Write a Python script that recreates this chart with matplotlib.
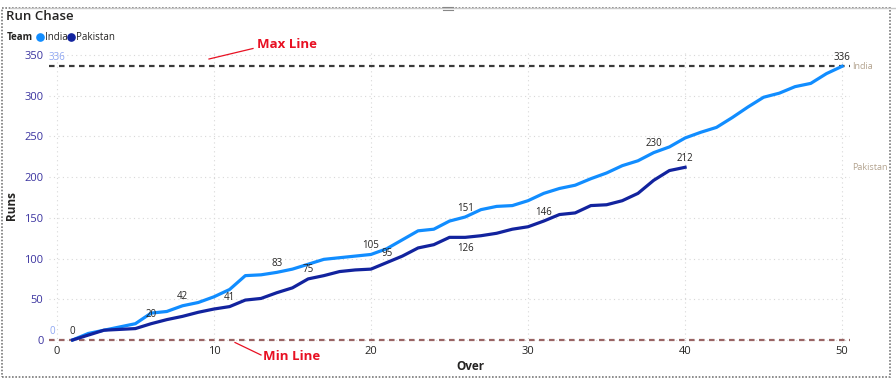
import numpy as np
import matplotlib.pyplot as plt
from matplotlib.patches import Rectangle
from matplotlib.lines import Line2D

# Дані: рани після кожного овера
overs_india = list(range(1, 51))
runs_india = [0, 8, 12, 16, 20, 33, 35, 42, 46, 53,
              62, 79, 80, 83, 87, 93, 99, 101, 103, 105,
              112, 123, 134, 136, 146, 151, 160, 164, 165, 171,
              180, 186, 190, 198, 205, 214, 220, 230, 237, 248,
              255, 261, 273, 286, 298, 303, 311, 315, 327, 336]

overs_pak = list(range(1, 41))
runs_pak = [0, 6, 12, 13, 14, 20, 25, 29, 34, 38,
            41, 49, 51, 58, 64, 75, 79, 84, 86, 87,
            95, 103, 113, 117, 126, 126, 128, 131, 136, 139,
            146, 154, 156, 165, 166, 171, 180, 196, 208, 212]

# Овери з підписами значень
india_label_overs = [8, 14, 20, 26, 38, 50]
pak_label_overs = [1, 6, 11, 16, 21, 26, 31, 40]
pak_below_overs = [26]

max_runs = max(runs_india)
min_runs = 0

c_india = '#118DFF'
c_pak = '#12239E'
c_red = '#E81123'

plt.rcParams['font.family'] = ['Open Sans', 'DejaVu Sans']

fig = plt.figure(figsize=(8.96, 3.79), dpi=100)
W, H = 896, 379

def fx(px):
    return px / W

def fy(py):
    return 1 - py / H

ax = fig.add_axes([fx(49), fy(343), fx(850) - fx(49), fy(50) - fy(343)])

# Лінії
ax.plot(overs_india, runs_india, color=c_india, lw=2.3, solid_joinstyle='round', zorder=3)
ax.plot(overs_pak, runs_pak, color=c_pak, lw=2.3, solid_joinstyle='round', zorder=3)

# Макс / мін лінії
ax.axhline(max_runs, color='#3a3a3a', lw=1.6, ls=(0, (2.5, 2)), zorder=2)
ax.axhline(min_runs, color='#9a6464', lw=1.6, ls=(0, (2.5, 2)), zorder=2)
ax.text(-0.5, max_runs + 4, str(max_runs), color='#8ea6f2', fontsize=7, ha='left', va='bottom')
ax.text(-0.5, min_runs + 4, str(min_runs), color='#8ea6f2', fontsize=7, ha='left', va='bottom')

# Підписи значень
for o in india_label_overs:
    v = runs_india[overs_india.index(o)]
    ax.annotate(str(v), (o, v), xytext=(0, 2.5), textcoords='offset points',
                ha='center', va='bottom', fontsize=7, color='#252423', zorder=4)
for o in pak_label_overs:
    v = runs_pak[overs_pak.index(o)]
    if o in pak_below_overs:
        ax.annotate(str(v), (o, v), xytext=(0, -4), textcoords='offset points',
                    ha='center', va='top', fontsize=7, color='#252423', zorder=4)
    else:
        ax.annotate(str(v), (o, v), xytext=(0, 2.5), textcoords='offset points',
                    ha='center', va='bottom', fontsize=7, color='#252423', zorder=4)

# Назви серій справа
ax.annotate('India', (overs_india[-1], runs_india[-1]), xytext=(7, 0), textcoords='offset points',
            ha='left', va='center', fontsize=6.5, color='#b3a38f', annotation_clip=False)
ax.annotate('Pakistan', (overs_india[-1], runs_pak[-1]), xytext=(7, 0), textcoords='offset points',
            ha='left', va='center', fontsize=6.5, color='#b3a38f', annotation_clip=False)

# Осі
ax.set_xlim(-0.5, 50.5)
ax.set_ylim(-3.7, 356)
ax.set_xticks(range(0, 51, 10))
ax.set_yticks(range(0, 351, 50))
ax.tick_params(axis='both', length=0, labelsize=8)
ax.tick_params(axis='y', labelcolor='#3b34a0', pad=4)
ax.tick_params(axis='x', labelcolor='#252423', pad=2)
for s in ax.spines.values():
    s.set_visible(False)
ax.grid(True, color='#d8d8d8', lw=0.8, ls=(0, (1, 3)))
ax.set_axisbelow(True)

fig.text(fx(470), fy(367), 'Over', fontsize=8.5, fontweight='bold', color='#252423', ha='center', va='center')
fig.text(fx(12), fy(205), 'Runs', fontsize=8.5, fontweight='bold', color='#252423', ha='center', va='center',
         rotation=90)

# Заголовок і легенда
fig.text(fx(6), fy(17), 'Run Chase', fontsize=9.5, fontweight='semibold', color='#252423', ha='left', va='center')
fig.text(fx(7), fy(37), 'Team', fontsize=7, fontweight='bold', color='#252423', ha='left', va='center')
fig.add_artist(Line2D([fx(40)], [fy(37)], marker='o', ms=5.2, color=c_india, ls='none'))
fig.text(fx(45), fy(37), 'India', fontsize=7, color='#252423', ha='left', va='center')
fig.add_artist(Line2D([fx(71)], [fy(37)], marker='o', ms=5.2, color=c_pak, ls='none'))
fig.text(fx(76), fy(37), 'Pakistan', fontsize=7, color='#252423', ha='left', va='center')

# Червоні позначки
fig.add_artist(Line2D([fx(209), fx(253)], [fy(59), fy(48.5)], color=c_red, lw=0.9))
fig.text(fx(257), fy(45), 'Max Line', fontsize=9.5, fontweight='bold', color=c_red, ha='left', va='center')
fig.add_artist(Line2D([fx(235), fx(261)], [fy(342.5), fy(355)], color=c_red, lw=0.9))
fig.text(fx(263), fy(357), 'Min Line', fontsize=9.5, fontweight='bold', color=c_red, ha='left', va='center')

# Рамка візуалу
fig.add_artist(Rectangle((fx(2), fy(377)), fx(888), fy(8) - fy(377), fill=False,
                         ec='#7a7a7a', lw=1.2, ls=(0, (1, 1))))
fig.add_artist(Line2D([fx(10), fx(896)], [fy(8), fy(8)], color='#c8c8c8', lw=1))
fig.add_artist(Line2D([fx(443), fx(453)], [fy(7), fy(7)], color='#888888', lw=0.8))
fig.add_artist(Line2D([fx(443), fx(453)], [fy(10), fy(10)], color='#888888', lw=0.8))

fig.savefig('out.png', dpi=100)
